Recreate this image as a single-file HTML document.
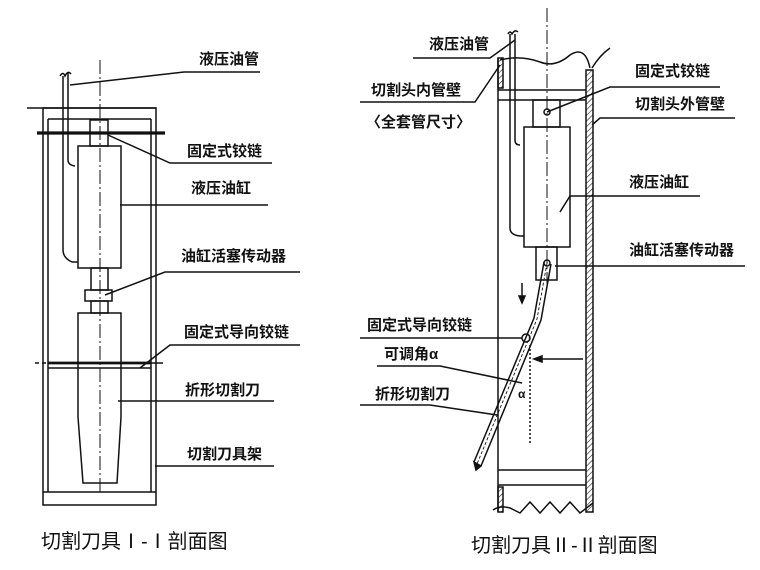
<!DOCTYPE html>
<html><head><meta charset="utf-8"><style>
html,body{margin:0;padding:0;background:#fff;width:760px;height:570px;overflow:hidden}
svg{display:block}
text{font-family:"Liberation Sans","Noto Sans CJK SC",sans-serif;fill:#111;font-weight:bold}
</style></head><body>
<svg width="760" height="570" viewBox="0 0 760 570" xmlns="http://www.w3.org/2000/svg">
<defs>
<pattern id="h" width="4" height="4" patternUnits="userSpaceOnUse" patternTransform="rotate(45)">
<line x1="0" y1="0" x2="0" y2="4" stroke="#222" stroke-width="1.2"/></pattern>
</defs>
<g stroke="#111" fill="none" stroke-width="1.5">
<line x1="27" y1="108" x2="156" y2="108"/>
<rect x="43" y="108" width="113" height="397"/>
<line x1="48" y1="119" x2="48" y2="492"/>
<line x1="151" y1="119" x2="151" y2="492"/>
<line x1="48" y1="119" x2="151" y2="119"/>
<line x1="43" y1="492" x2="156" y2="492"/>
<line x1="37" y1="133" x2="165" y2="133" stroke-width="3.2"/>
<line x1="100" y1="60" x2="100" y2="495" stroke-dasharray="14,3,2,3" stroke-width="1"/>
<path d="M63 76 V250 Q63 258 72 262 H78"/>
<path d="M68 72 V160 Q68 165 75 166"/>
<path d="M60 76 q3 -5 5 0 q3 -6 6 -2"/>
<rect x="90" y="120" width="18" height="26"/>
<rect x="78" y="146" width="43" height="122"/>
<rect x="91" y="268" width="17" height="22"/>
<rect x="85" y="290" width="27" height="11"/>
<rect x="91" y="301" width="17" height="12"/>
<path d="M78 313 H121 V417 L117 483 H83 L78 417 Z"/>
<line x1="48" y1="363" x2="151" y2="363" stroke-width="2.8"/>
<line x1="35" y1="363" x2="48" y2="363" stroke-dasharray="4,3"/>
<line x1="151" y1="363" x2="163" y2="363"/>
<line x1="48" y1="368" x2="151" y2="368"/>
<path d="M70 85 L184 72 H260"/>
<path d="M108 135 L170 163 H272"/>
<path d="M120 205 H268"/>
<path d="M105 295 L165 272 H300"/>
<path d="M140 368 L170 345 H300"/>
<path d="M118 401 H274"/>
<path d="M155 466 H274"/>

<line x1="547" y1="8" x2="547" y2="285" stroke-dasharray="14,3,2,3" stroke-width="1"/>
<line x1="498" y1="58" x2="498" y2="512"/>
<rect x="586" y="70" width="7" height="442" fill="url(#h)"/>
<rect x="498" y="58" width="5" height="30" fill="url(#h)"/>
<rect x="498" y="487" width="5" height="25" fill="url(#h)"/>
<path d="M500 60 Q520 55 540 62 Q555 68 570 55 Q585 45 590 68"/>
<path d="M592 68 Q600 55 610 48"/>
<line x1="498" y1="90" x2="586" y2="90"/>
<line x1="498" y1="100" x2="586" y2="100"/>
<rect x="533" y="100" width="27" height="27"/>
<circle cx="547" cy="112" r="3"/>
<rect x="524" y="127" width="46" height="120"/>
<path d="M510 34 V228 Q510 235 520 236 H524"/>
<path d="M515 34 V140 Q515 145 520 145"/>
<path d="M508 34 q2 -4 4 0 q3 -5 6 -2"/>
<rect x="536" y="247" width="21" height="33"/>
<path d="M544 262 L534 318 L474 462"/>
<path d="M551 264 L541 320 L481 466"/>
<path d="M547 263 L537 319 L477 464" stroke-dasharray="3,2" stroke-width="0.9"/>
<circle cx="547" cy="263" r="3"/>
<path d="M474 462 L476 470 L481 466 Z" fill="#111"/>
<circle cx="526" cy="338" r="4"/>
<line x1="530" y1="345" x2="530" y2="443" stroke-dasharray="2,2"/>
<line x1="522" y1="283" x2="522" y2="298"/>
<path d="M519 296 L522 303 L525 296 Z" fill="#111"/>
<line x1="540" y1="359" x2="583" y2="359"/>
<path d="M534 359 L542 356 L542 362 Z" fill="#111"/>
<line x1="498" y1="470" x2="586" y2="470"/>
<line x1="498" y1="485" x2="586" y2="485"/>
<path d="M493 510 Q500 505 510 508 L520 513 L530 502 L540 513 L550 502 L560 513 L570 502 L580 513 L593 503"/>
<path d="M413 58 H490 L515 40"/>
<path d="M360 102 H475 L500 65"/>
<path d="M547 112 L610 87 H720"/>
<path d="M592 125 L600 118 H735"/>
<path d="M560 212 L570 196 H700"/>
<path d="M555 266 H745"/>
<path d="M360 338 H522"/>
<path d="M377 366 H440 L522 383"/>
<path d="M360 405 H430 L497 415"/>
</g>
<g font-size="15">
<text x="199" y="64">液压油管</text>
<text x="187" y="156">固定式铰链</text>
<text x="191" y="193">液压油缸</text>
<text x="181" y="261">油缸活塞传动器</text>
<text x="184" y="337">固定式导向铰链</text>
<text x="185" y="395">折形切割刀</text>
<text x="187" y="459">切割刀具架</text>
<text x="429" y="49">液压油管</text>
<text x="371" y="95">切割头内管壁</text>
<text x="366" y="127">〈全套管尺寸〉</text>
<text x="635" y="76">固定式铰链</text>
<text x="635" y="109">切割头外管壁</text>
<text x="629" y="187">液压油缸</text>
<text x="629" y="255">油缸活塞传动器</text>
<text x="367" y="330">固定式导向铰链</text>
<text x="384" y="359">可调角α</text>
<text x="518" y="398" font-size="12">α</text>
<text x="375" y="399">折形切割刀</text>
</g>
<g font-size="20" style="font-weight:normal">
<text x="41" y="548" style="font-weight:normal">切割刀具Ⅰ-Ⅰ剖面图</text>
<text x="471" y="552" style="font-weight:normal">切割刀具Ⅱ-Ⅱ剖面图</text>
</g>
</svg>
</body></html>
